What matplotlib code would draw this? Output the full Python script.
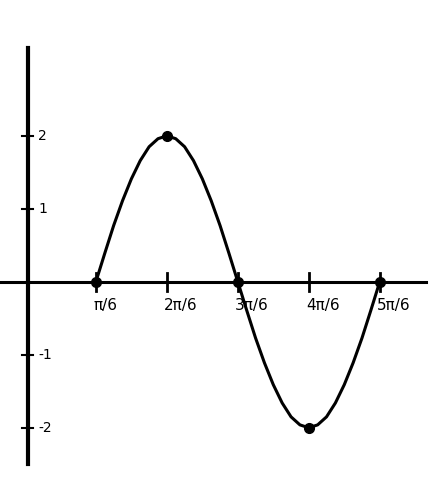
import numpy as np
import matplotlib.pyplot as plt

u = np.pi / 6
# curve points (x in units of pi/6)
xs_units = [1.0, 1.125, 1.25, 1.375, 1.5, 1.625, 1.75, 1.875, 2.0, 2.125, 2.25, 2.375, 2.5,
            2.625, 2.75, 2.875, 3.0, 3.125, 3.25, 3.375, 3.5, 3.625, 3.75, 3.875, 4.0,
            4.125, 4.25, 4.375, 4.5, 4.625, 4.75, 4.875, 5.0]
ys = [0, 0.39, 0.77, 1.11, 1.41, 1.66, 1.85, 1.96, 2.0, 1.96, 1.85, 1.66, 1.41,
      1.11, 0.77, 0.39, 0, -0.39, -0.77, -1.11, -1.41, -1.66, -1.85, -1.96, -2.0,
      -1.96, -1.85, -1.66, -1.41, -1.11, -0.77, -0.39, 0]
dot_x = [1, 2, 3, 4, 5]
dot_y = [0, 2, 0, -2, 0]
xtick_labels = ["π/6", "2π/6", "3π/6", "4π/6", "5π/6"]
ytick_vals = [2, 1, -1, -2]

fig = plt.figure(figsize=(4.41, 4.84), dpi=100)
ax = fig.add_axes([0, 0, 1, 1])
ax.set_xlim(-0.184 * 1 / u * u, 3.07)
ax.set_ylim(-2.77, 3.86)
ax.axis("off")

xs = [v * u for v in xs_units]
ax.plot(xs, ys, color="black", lw=2.2)
ax.plot([v * u for v in dot_x], dot_y, "o", color="black", ms=7)

# axes
ax.plot([-0.184, 2.96], [0, 0], color="black", lw=2.2)
ax.plot([0.02, 0.02], [-2.5, 3.2], color="black", lw=3)

for i, lab in enumerate(xtick_labels):
    x = (i + 1) * u
    ax.plot([x, x], [-0.12, 0.12], color="black", lw=2)
    ax.text(x - 0.02, -0.22, lab, fontsize=11, ha="left", va="top")
for v in ytick_vals:
    ax.plot([-0.02, 0.06], [v, v], color="black", lw=1.5)
    ax.text(0.1, v, str(v), fontsize=10, ha="left", va="center")

fig.savefig("out.png", dpi=100)
